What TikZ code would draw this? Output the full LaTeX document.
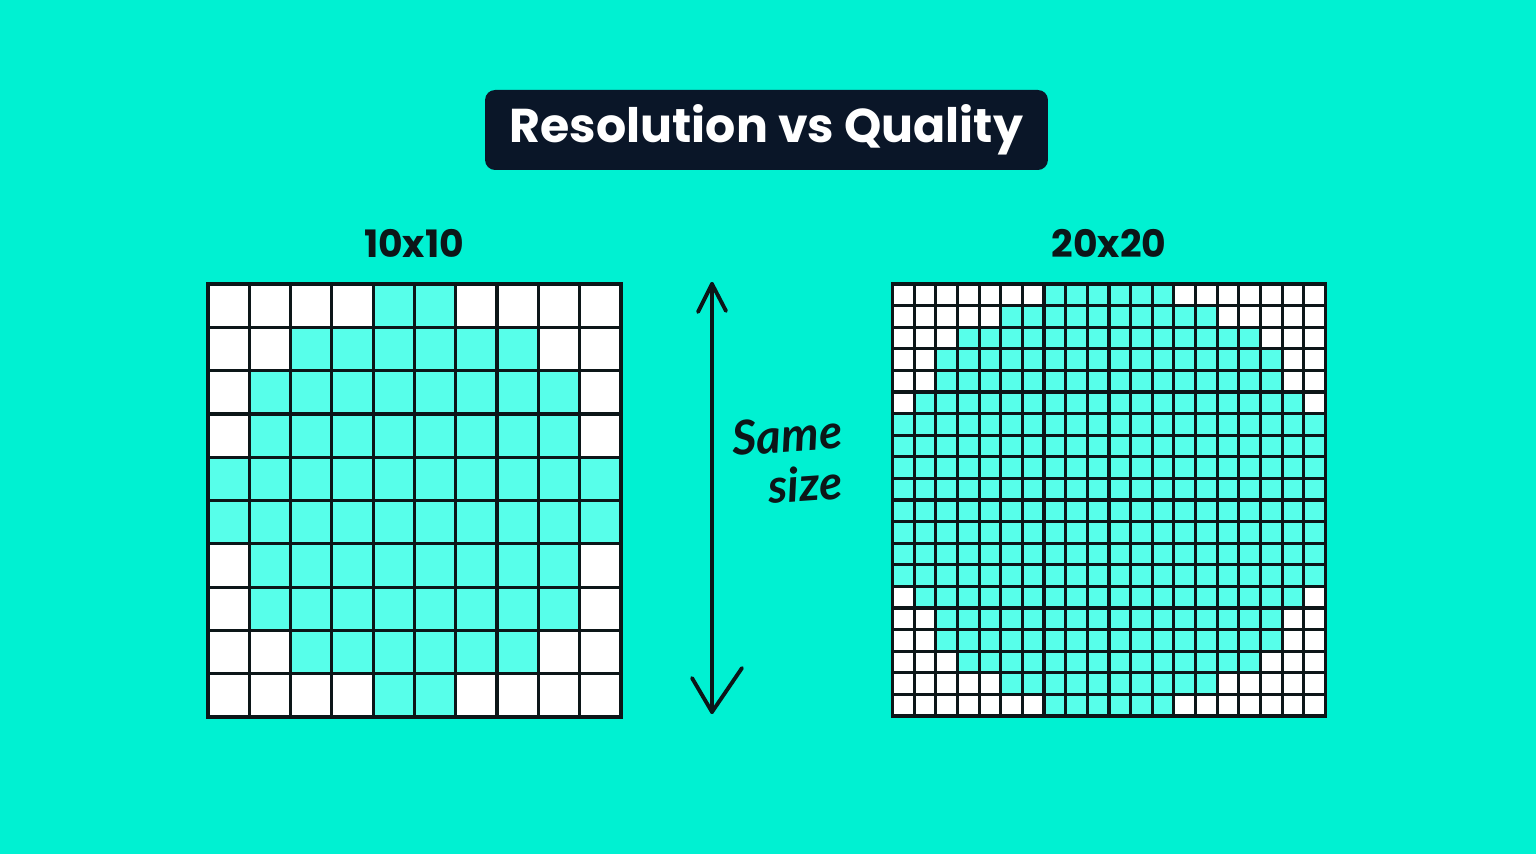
\documentclass[tikz,border=0pt]{standalone}
\usepackage{fontspec}
\usetikzlibrary{positioning}
\setmainfont{Poppins}
\newfontfamily\handfont{Lato}
\definecolor{bgteal}{HTML}{00F1D2}
\definecolor{pixcyan}{HTML}{57FFEA}
\definecolor{navy}{HTML}{0A1628}
\definecolor{inkblack}{HTML}{0C1618}

\begin{document}
\begin{tikzpicture}[x=0.02cm, y=0.02cm,
      titlebox/.style={draw=none, rectangle, rounded corners=0.2cm, fill=navy,
                       minimum width=11.26cm, minimum height=1.6cm,
                       text=white, font=\fontsize{27}{28}\selectfont\bfseries},
      gridlabel/.style={text=inkblack, font=\fontsize{21.5}{23}\selectfont\bfseries},
      hand/.style={text=inkblack, inner sep=1pt, font=\fontsize{27}{28}\selectfont\handfont\bfseries\itshape},
      gridline/.style={draw=inkblack, line width=1.8pt},
      arrowline/.style={draw=inkblack, line width=2.2pt, line cap=round, line join=round}
    ]
    % background
    \fill[bgteal] (0,0) rectangle (1536,854);

    \node[titlebox] (title) at (766.5,724) {Resolution vs Quality};
    \node[gridlabel] (lowres)  at (414,611)  {10x10};
    \node[gridlabel] (highres) at (1109,611) {20x20};

    % 10x10 grid
    \begin{scope}[shift={(208,137)}, x=0.826cm, y=0.866cm]
      \fill[pixcyan] (0,0) rectangle (10,10);
      \foreach \r/\w in {1/4,2/2,3/1,4/1,7/1,8/1,9/2,10/4} {
        \fill[white] (0,10-\r) rectangle (\w,11-\r);
        \fill[white] (10-\w,10-\r) rectangle (10,11-\r);
      }
      \foreach \i in {1,...,9} {
        \draw[gridline] (\i,0) -- (\i,10);
        \draw[gridline] (0,\i) -- (10,\i);
      }
      \draw[gridline] (0,0) rectangle (10,10);
    \end{scope}

    % 20x20 grid
    \begin{scope}[shift={(892.5,138)}, x=0.433cm, y=0.432cm]
      \fill[pixcyan] (0,0) rectangle (20,20);
      \foreach \r/\w in {1/7,2/5,3/3,4/2,5/2,6/1,15/1,16/2,17/2,18/3,19/5,20/7} {
        \fill[white] (0,20-\r) rectangle (\w,21-\r);
        \fill[white] (20-\w,20-\r) rectangle (20,21-\r);
      }
      \foreach \i in {1,...,19} {
        \draw[gridline] (\i,0) -- (\i,20);
        \draw[gridline] (0,\i) -- (20,\i);
      }
      \draw[gridline] (0,0) rectangle (20,20);
    \end{scope}

    % same size arrow
    \coordinate (tip)  at (712,570);
    \coordinate (tail) at (712,142);
    \draw[arrowline] (tip) -- (tail);
    \draw[arrowline] (698,542) -- (tip) -- (726,543);
    \draw[arrowline] (692,176) -- (tail) -- (742,186);

    \node[hand, rotate=4] (same) at (787,419) {Same};
    \node[hand, rotate=4] (size) at (805,370) {size};
  \end{tikzpicture}
\end{document}
